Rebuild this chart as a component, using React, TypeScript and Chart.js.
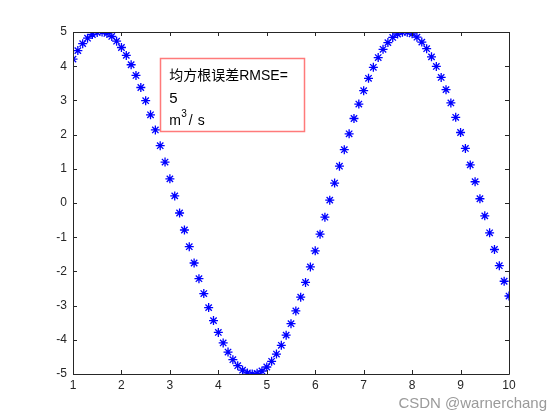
import React, { useEffect, useRef } from "react";
import { Chart, registerables } from "chart.js";

Chart.register(...registerables);

const xValues = [
  1.0, 1.1, 1.2, 1.3, 1.4, 1.5, 1.6, 1.7, 1.8, 1.9,
  2.0, 2.1, 2.2, 2.3, 2.4, 2.5, 2.6, 2.7, 2.8, 2.9,
  3.0, 3.1, 3.2, 3.3, 3.4, 3.5, 3.6, 3.7, 3.8, 3.9,
  4.0, 4.1, 4.2, 4.3, 4.4, 4.5, 4.6, 4.7, 4.8, 4.9,
  5.0, 5.1, 5.2, 5.3, 5.4, 5.5, 5.6, 5.7, 5.8, 5.9,
  6.0, 6.1, 6.2, 6.3, 6.4, 6.5, 6.6, 6.7, 6.8, 6.9,
  7.0, 7.1, 7.2, 7.3, 7.4, 7.5, 7.6, 7.7, 7.8, 7.9,
  8.0, 8.1, 8.2, 8.3, 8.4, 8.5, 8.6, 8.7, 8.8, 8.9,
  9.0, 9.1, 9.2, 9.3, 9.4, 9.5, 9.6, 9.7, 9.8, 9.9,
  10.0,
];

const yValues = [
  4.207, 4.456, 4.660, 4.818, 4.927, 4.988, 4.998, 4.958, 4.869, 4.732,
  4.547, 4.316, 4.042, 3.729, 3.377, 2.992, 2.578, 2.137, 1.675, 1.196,
  0.706, 0.208, -0.292, -0.789, -1.278, -1.754, -2.213, -2.649, -3.059, -3.439,
  -3.784, -4.091, -4.358, -4.581, -4.758, -4.888, -4.968, -5.000, -4.981, -4.912,
  -4.795, -4.629, -4.417, -4.161, -3.864, -3.528, -3.156, -2.753, -2.323, -1.869,
  -1.397, -0.911, -0.415, 0.084, 0.583, 1.076, 1.558, 2.024, 2.471, 2.892,
  3.285, 3.645, 3.968, 4.252, 4.494, 4.690, 4.840, 4.941, 4.993, 4.995,
  4.947, 4.849, 4.704, 4.511, 4.273, 3.992, 3.672, 3.315, 2.925, 2.505,
  2.061, 1.596, 1.114, 0.622, 0.124, -0.376, -0.872, -1.359, -1.832, -2.288,
  -2.720,
];

const xTicks = [1, 2, 3, 4, 5, 6, 7, 8, 9, 10];
const yTicks = [-5, -4, -3, -2, -1, 0, 1, 2, 3, 4, 5];

const annotationTitle = "均方根误差";
const annotationTitleLatin = "RMSE=";
const annotationValue = "5";
const annotationUnit = ["m", "3", "/", "s"];
const watermark = "CSDN @warnerchang";

const AXIS_COLOR = "#262626";

const boxPlugin = {
  id: "matlabBox",
  afterDatasetsDraw(chart: any) {
    const { ctx, chartArea, scales } = chart;
    const { left, right, top, bottom } = chartArea;
    ctx.save();
    ctx.strokeStyle = AXIS_COLOR;
    ctx.lineWidth = 1;
    ctx.beginPath();
    ctx.rect(Math.round(left) + 0.5, Math.round(top) + 0.5, Math.round(right - left), Math.round(bottom - top));
    ctx.stroke();
    const tl = 4;
    ctx.beginPath();
    for (const t of xTicks) {
      const px = Math.round(scales.x.getPixelForValue(t)) + 0.5;
      ctx.moveTo(px, bottom);
      ctx.lineTo(px, bottom - tl);
      ctx.moveTo(px, top);
      ctx.lineTo(px, top + tl);
    }
    for (const t of yTicks) {
      const py = Math.round(scales.y.getPixelForValue(t)) + 0.5;
      ctx.moveTo(left, py);
      ctx.lineTo(left + tl, py);
      ctx.moveTo(right, py);
      ctx.lineTo(right - tl, py);
    }
    ctx.stroke();

    // annotation text box (data coordinates)
    const bx0 = scales.x.getPixelForValue(2.8);
    const bx1 = scales.x.getPixelForValue(5.77);
    const by0 = scales.y.getPixelForValue(4.24);
    const by1 = scales.y.getPixelForValue(2.1);
    ctx.fillStyle = "#ffffff";
    ctx.fillRect(bx0, by0, bx1 - bx0, by1 - by0);
    ctx.strokeStyle = "#ff7a7a";
    ctx.lineWidth = 1.5;
    ctx.strokeRect(Math.round(bx0) + 0.5, Math.round(by0) + 0.5, Math.round(bx1 - bx0), Math.round(by1 - by0));

    ctx.fillStyle = "#000000";
    ctx.textBaseline = "alphabetic";
    ctx.textAlign = "left";
    const tx = bx0 + 9;
    ctx.font = '14px "Noto Sans CJK SC", sans-serif';
    ctx.fillText(annotationTitle, tx, by0 + 22);
    const cw = ctx.measureText(annotationTitle).width;
    ctx.font = '14px "Liberation Sans", Arial, sans-serif';
    ctx.fillText(annotationTitleLatin, tx + cw, by0 + 22);
    ctx.font = '15px "Liberation Sans", Arial, sans-serif';
    ctx.fillText(annotationValue, tx, by0 + 45);
    ctx.font = '14px "Liberation Sans", Arial, sans-serif';
    ctx.fillText(annotationUnit[0], tx, by0 + 67);
    const mw = ctx.measureText(annotationUnit[0]).width;
    ctx.font = '10px "Liberation Sans", Arial, sans-serif';
    ctx.fillText(annotationUnit[1], tx + mw + 0.5, by0 + 59);
    ctx.font = '14px "Liberation Sans", Arial, sans-serif';
    ctx.fillText(annotationUnit[2], tx + mw + 8, by0 + 67);
    ctx.fillText(annotationUnit[3], tx + mw + 17, by0 + 67);

    // watermark
    ctx.fillStyle = "#9a9a9a";
    ctx.font = '15px "Liberation Sans", Arial, sans-serif';
    ctx.textAlign = "right";
    ctx.fillText(watermark, 547, 408);
    ctx.restore();
  },
};

export default function App() {
  const canvasRef = useRef<HTMLCanvasElement | null>(null);

  useEffect(() => {
    document.body.style.margin = "0";
    const canvas = canvasRef.current;
    if (!canvas) return;
    const chart = new Chart(canvas, {
      type: "scatter",
      data: {
        datasets: [
          {
            data: xValues.map((x, i) => ({ x, y: yValues[i] })),
            pointStyle: "star",
            pointRadius: 4.5,
            pointHoverRadius: 4.5,
            borderColor: "#0000ff",
            backgroundColor: "#0000ff",
            borderWidth: 1.3,
            showLine: false,
          },
        ],
      },
      plugins: [boxPlugin],
      options: {
        responsive: false,
        animation: false,
        events: [],
        layout: { padding: { left: 0, top: 32, right: 51, bottom: 0 } },
        plugins: {
          legend: { display: false },
          tooltip: { enabled: false },
        },
        scales: {
          x: {
            type: "linear",
            min: 1,
            max: 10,
            afterBuildTicks: (scale: any) => {
              scale.ticks = xTicks.map((v) => ({ value: v }));
            },
            afterFit: (scale: any) => {
              scale.height = 46;
            },
            grid: { display: false, drawTicks: false },
            border: { display: false },
            ticks: {
              padding: 4,
              color: AXIS_COLOR,
              font: { family: '"Liberation Sans", Arial, sans-serif', size: 12 },
              maxRotation: 0,
              autoSkip: false,
            },
          },
          y: {
            type: "linear",
            min: -5,
            max: 5,
            afterBuildTicks: (scale: any) => {
              scale.ticks = yTicks.map((v) => ({ value: v }));
            },
            afterFit: (scale: any) => {
              scale.width = 73;
            },
            grid: { display: false, drawTicks: false },
            border: { display: false },
            ticks: {
              padding: 6,
              color: AXIS_COLOR,
              font: { family: '"Liberation Sans", Arial, sans-serif', size: 12 },
              autoSkip: false,
            },
          },
        },
      },
    });
    return () => chart.destroy();
  }, []);

  return (
    <div style={{ position: "absolute", left: 0, top: 0, width: 560, height: 420, background: "#ffffff" }}>
      <canvas ref={canvasRef} width={560} height={420} />
    </div>
  );
}
